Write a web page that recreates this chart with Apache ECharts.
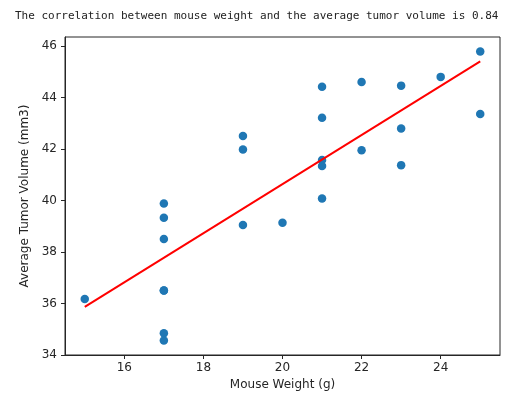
<!DOCTYPE html>
<html>
<head>
<meta charset="utf-8">
<script src="https://cdn.jsdelivr.net/npm/echarts@6/dist/echarts.min.js"></script>
<style>
  html, body { margin: 0; padding: 0; background: #fff; }
  #chart { width: 516px; height: 403px; }
</style>
</head>
<body>
<div id="chart"></div>
<script>
// mouse weight (g) and average tumor volume (mm3), one entry per mouse
var weights = [22, 21, 17, 19, 22, 24, 20, 23, 21, 21, 19, 17, 19, 25, 17, 25, 17, 23, 17, 17, 21, 23, 21, 15, 17]
var volumes = [41.96, 40.08, 36.51, 41.99, 44.61, 44.81, 39.14, 44.47, 43.22, 44.43, 42.51, 34.85, 39.05, 45.80,
  36.51, 43.37, 34.56, 42.80, 39.33, 39.89, 41.58, 41.38, 41.35, 36.18, 38.51]

// regression line end points
var lineX = [15, 25]
var lineY = [35.87, 45.41]

var xTicks = [16, 18, 20, 22, 24]
var yTicks = [34, 36, 38, 40, 42, 44, 46]

var titleText = 'The correlation between mouse weight and the average tumor volume is 0.84'

var myChart = echarts.init(document.getElementById('chart'))

var points = weights.map(function(w, i) { return [w, volumes[i]] })
var linePts = lineX.map(function(x, i) { return [x, lineY[i]] })

var axisFont = { fontFamily: 'DejaVu Sans', fontSize: 12, color: '#262626' }

var option = {
  animation: false,
  backgroundColor: '#fff',
  title: {
    text: titleText,
    left: 10,
    top: 6,
    textStyle: { fontFamily: 'DejaVu Sans Mono', fontSize: 11, fontWeight: 'normal', color: '#222' }
  },
  grid: {
    left: 65, right: 16, top: 37, bottom: 48,
    show: true, borderColor: '#262626', borderWidth: 1
  },
  xAxis: {
    type: 'value',
    min: 14.5,
    max: 25.5,
    name: 'Mouse Weight (g)',
    nameLocation: 'middle',
    nameGap: 24,
    nameTextStyle: axisFont,
    splitLine: { show: false },
    axisLine: { lineStyle: { color: '#262626', width: 1 } },
    axisTick: { inside: false, length: 4, customValues: xTicks, lineStyle: { color: '#262626' } },
    axisLabel: Object.assign({ margin: 7, customValues: xTicks }, axisFont)
  },
  yAxis: {
    type: 'value',
    min: 34,
    max: 46.36,
    name: 'Average Tumor Volume (mm3)',
    nameLocation: 'middle',
    nameGap: 30,
    nameTextStyle: axisFont,
    splitLine: { show: false },
    axisLine: { show: true, lineStyle: { color: '#262626', width: 1 } },
    axisTick: { show: true, inside: false, length: 4, customValues: yTicks, lineStyle: { color: '#262626' } },
    axisLabel: Object.assign({ margin: 8, customValues: yTicks }, axisFont)
  },
  series: [{
    type: 'scatter',
    data: points,
    symbolSize: 8.5,
    itemStyle: { color: '#1f77b4', opacity: 1 }
  }, {
    type: 'line',
    data: linePts,
    showSymbol: false,
    lineStyle: { color: 'red', width: 2 },
    z: 3
  }]
}

myChart.setOption(option, true)
window.onresize = () => {
  myChart.resize()
}
</script>
</body>
</html>
